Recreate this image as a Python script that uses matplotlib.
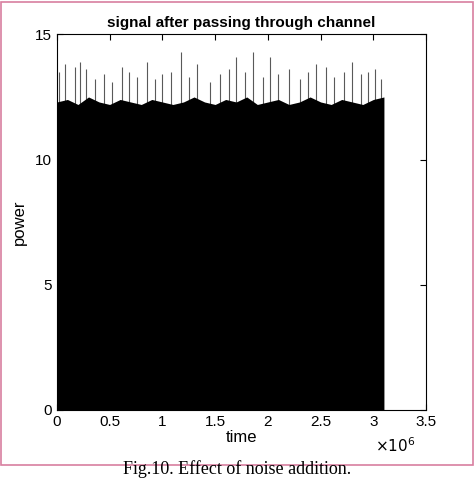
import matplotlib
matplotlib.use("Agg")
import matplotlib.pyplot as plt
from matplotlib.patches import Rectangle

plt.rcParams['font.family'] = ['Liberation Sans', 'DejaVu Sans']

# dense noise block: lower envelope of the solid black region (time in 1e6)
env_t = [0.0, 0.1, 0.2, 0.3, 0.4, 0.5, 0.6, 0.7, 0.8, 0.9, 1.0, 1.1, 1.2, 1.3, 1.4, 1.5,
         1.6, 1.7, 1.8, 1.9, 2.0, 2.1, 2.2, 2.3, 2.4, 2.5, 2.6, 2.7, 2.8, 2.9, 3.0, 3.1]
env_p = [12.3, 12.4, 12.2, 12.5, 12.3, 12.2, 12.4, 12.3, 12.2, 12.4, 12.3, 12.2, 12.3, 12.5, 12.3, 12.2,
         12.4, 12.3, 12.5, 12.2, 12.3, 12.4, 12.2, 12.3, 12.5, 12.3, 12.2, 12.4, 12.3, 12.2, 12.4, 12.5]
# spikes rising above the block
spike_t = [0.02, 0.08, 0.17, 0.22, 0.28, 0.36, 0.45, 0.52, 0.62, 0.68, 0.76, 0.85, 0.93, 1.0, 1.08,
           1.18, 1.25, 1.33, 1.45, 1.55, 1.63, 1.7, 1.78, 1.86, 1.95, 2.02, 2.1, 2.2, 2.3, 2.38, 2.46,
           2.55, 2.63, 2.72, 2.8, 2.88, 2.95, 3.02, 3.07]
spike_p = [13.5, 13.8, 13.7, 13.9, 13.6, 13.2, 13.4, 13.1, 13.7, 13.5, 13.3, 13.9, 13.2, 13.4, 13.5,
           14.3, 13.3, 13.8, 13.1, 13.4, 13.6, 14.1, 13.5, 14.3, 13.3, 14.1, 13.4, 13.6, 13.2, 13.5, 13.8,
           13.7, 13.3, 13.5, 13.9, 13.4, 13.5, 13.6, 13.2]

fig = plt.figure(figsize=(4.74, 4.84), dpi=100)
ax = fig.add_axes([0.12, 0.153, 0.779, 0.776])
ax.vlines(spike_t, 11.5, spike_p, color="0.35", linewidth=0.8, zorder=1)
ax.fill_between(env_t, 0, env_p, color="black", linewidth=0, zorder=2)
ax.set_xlim(0, 3.5)
ax.set_ylim(0, 15)
ax.set_xticks([0, 0.5, 1, 1.5, 2, 2.5, 3, 3.5])
ax.set_xticklabels(["0", "0.5", "1", "1.5", "2", "2.5", "3", "3.5"])
ax.set_yticks([0, 5, 10, 15])
ax.tick_params(direction="in", top=True, right=True, labelsize=11, length=4)
ax.set_title("signal after passing through channel", fontsize=11, fontweight="bold", pad=5)
ax.set_xlabel("time", fontsize=12, labelpad=1)
ax.set_ylabel("power", fontsize=12, labelpad=6)
ax.text(0.97, -0.07, r"$\times10^6$", transform=ax.transAxes, ha="right", va="top", fontsize=11)

fig.text(0.5, 0.02, "Fig.10. Effect of noise addition.", ha="center", fontsize=13,
         family="Liberation Serif")
fig.patches.append(Rectangle((0.002, 0.04), 0.996, 0.955, transform=fig.transFigure,
                             fill=False, edgecolor="#d87fa0", linewidth=1.2))
fig.savefig("out.png", dpi=100)
